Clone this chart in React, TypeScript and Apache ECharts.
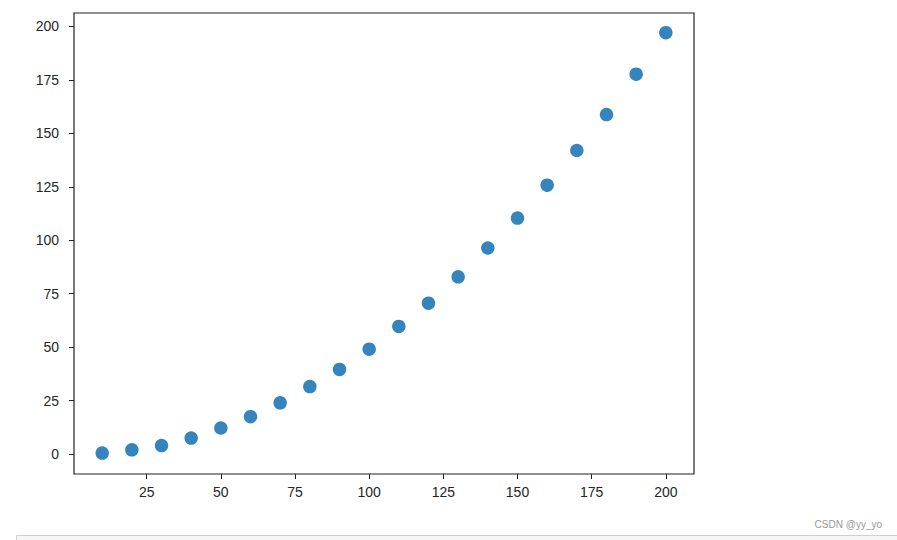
import React, { useEffect, useRef } from "react";
import * as echarts from "echarts";

const xValues = [10, 20, 30, 40, 50, 60, 70, 80, 90, 100, 110, 120, 130, 140, 150, 160, 170, 180, 190, 200];
const yValues = [0.5, 2, 4, 7.5, 12.2, 17.5, 24, 31.6, 39.6, 49.1, 59.7, 70.6, 82.9, 96.4, 110.4, 125.8, 142, 158.8, 177.7, 197.1];
const xTicks = [25, 50, 75, 100, 125, 150, 175, 200];
const yTicks = [0, 25, 50, 75, 100, 125, 150, 175, 200];
const watermark = "CSDN @yy_yo";

export default function App() {
  const ref = useRef<HTMLDivElement>(null);
  useEffect(() => {
    if (!ref.current) return;
    const chart = echarts.init(ref.current, undefined, { renderer: "svg" });
    const labelStyle = {
      color: "#262626",
      fontFamily: "Liberation Sans, Arial, sans-serif",
      fontSize: 14,
    };
    chart.setOption({
      animation: false,
      backgroundColor: "#ffffff",
      grid: {
        left: 74,
        right: 203,
        top: 13,
        bottom: 66,
        show: true,
        borderColor: "#222",
        borderWidth: 1.2,
        backgroundColor: "transparent",
      },
      xAxis: {
        type: "value",
        min: 0.5,
        max: 209.5,
        axisLine: { show: false, onZero: false },
        splitLine: { show: false },
        axisTick: { show: true, inside: false, length: 5, lineStyle: { color: "#222" }, customValues: xTicks },
        axisLabel: { ...labelStyle, margin: 11, customValues: xTicks },
      },
      yAxis: {
        type: "value",
        min: -9.3,
        max: 206.3,
        axisLine: { show: false, onZero: false },
        splitLine: { show: false },
        axisTick: { show: true, inside: false, length: 5, lineStyle: { color: "#222" }, customValues: yTicks },
        axisLabel: { ...labelStyle, margin: 15, customValues: yTicks },
      },
      series: [
        {
          type: "scatter",
          data: xValues.map((x, i) => [x, yValues[i]]),
          symbolSize: 13.5,
          itemStyle: { color: "#1f77b4", opacity: 0.9 },
        },
      ],
      graphic: [
        {
          type: "text",
          right: 15,
          top: 519,
          style: {
            text: watermark,
            fill: "#999",
            fontSize: 10,
            fontFamily: "Liberation Sans, Arial, sans-serif",
          },
        },
        {
          type: "rect",
          shape: { x: 16.5, y: 535.5, width: 900, height: 20 },
          style: { fill: "#f6f6f6", stroke: "#d0d0d0", lineWidth: 1 },
        },
      ],
    });
    return () => chart.dispose();
  }, []);
  return (
    <div
      ref={ref}
      style={{ position: "fixed", left: 0, top: 0, width: 897, height: 540 }}
    />
  );
}
